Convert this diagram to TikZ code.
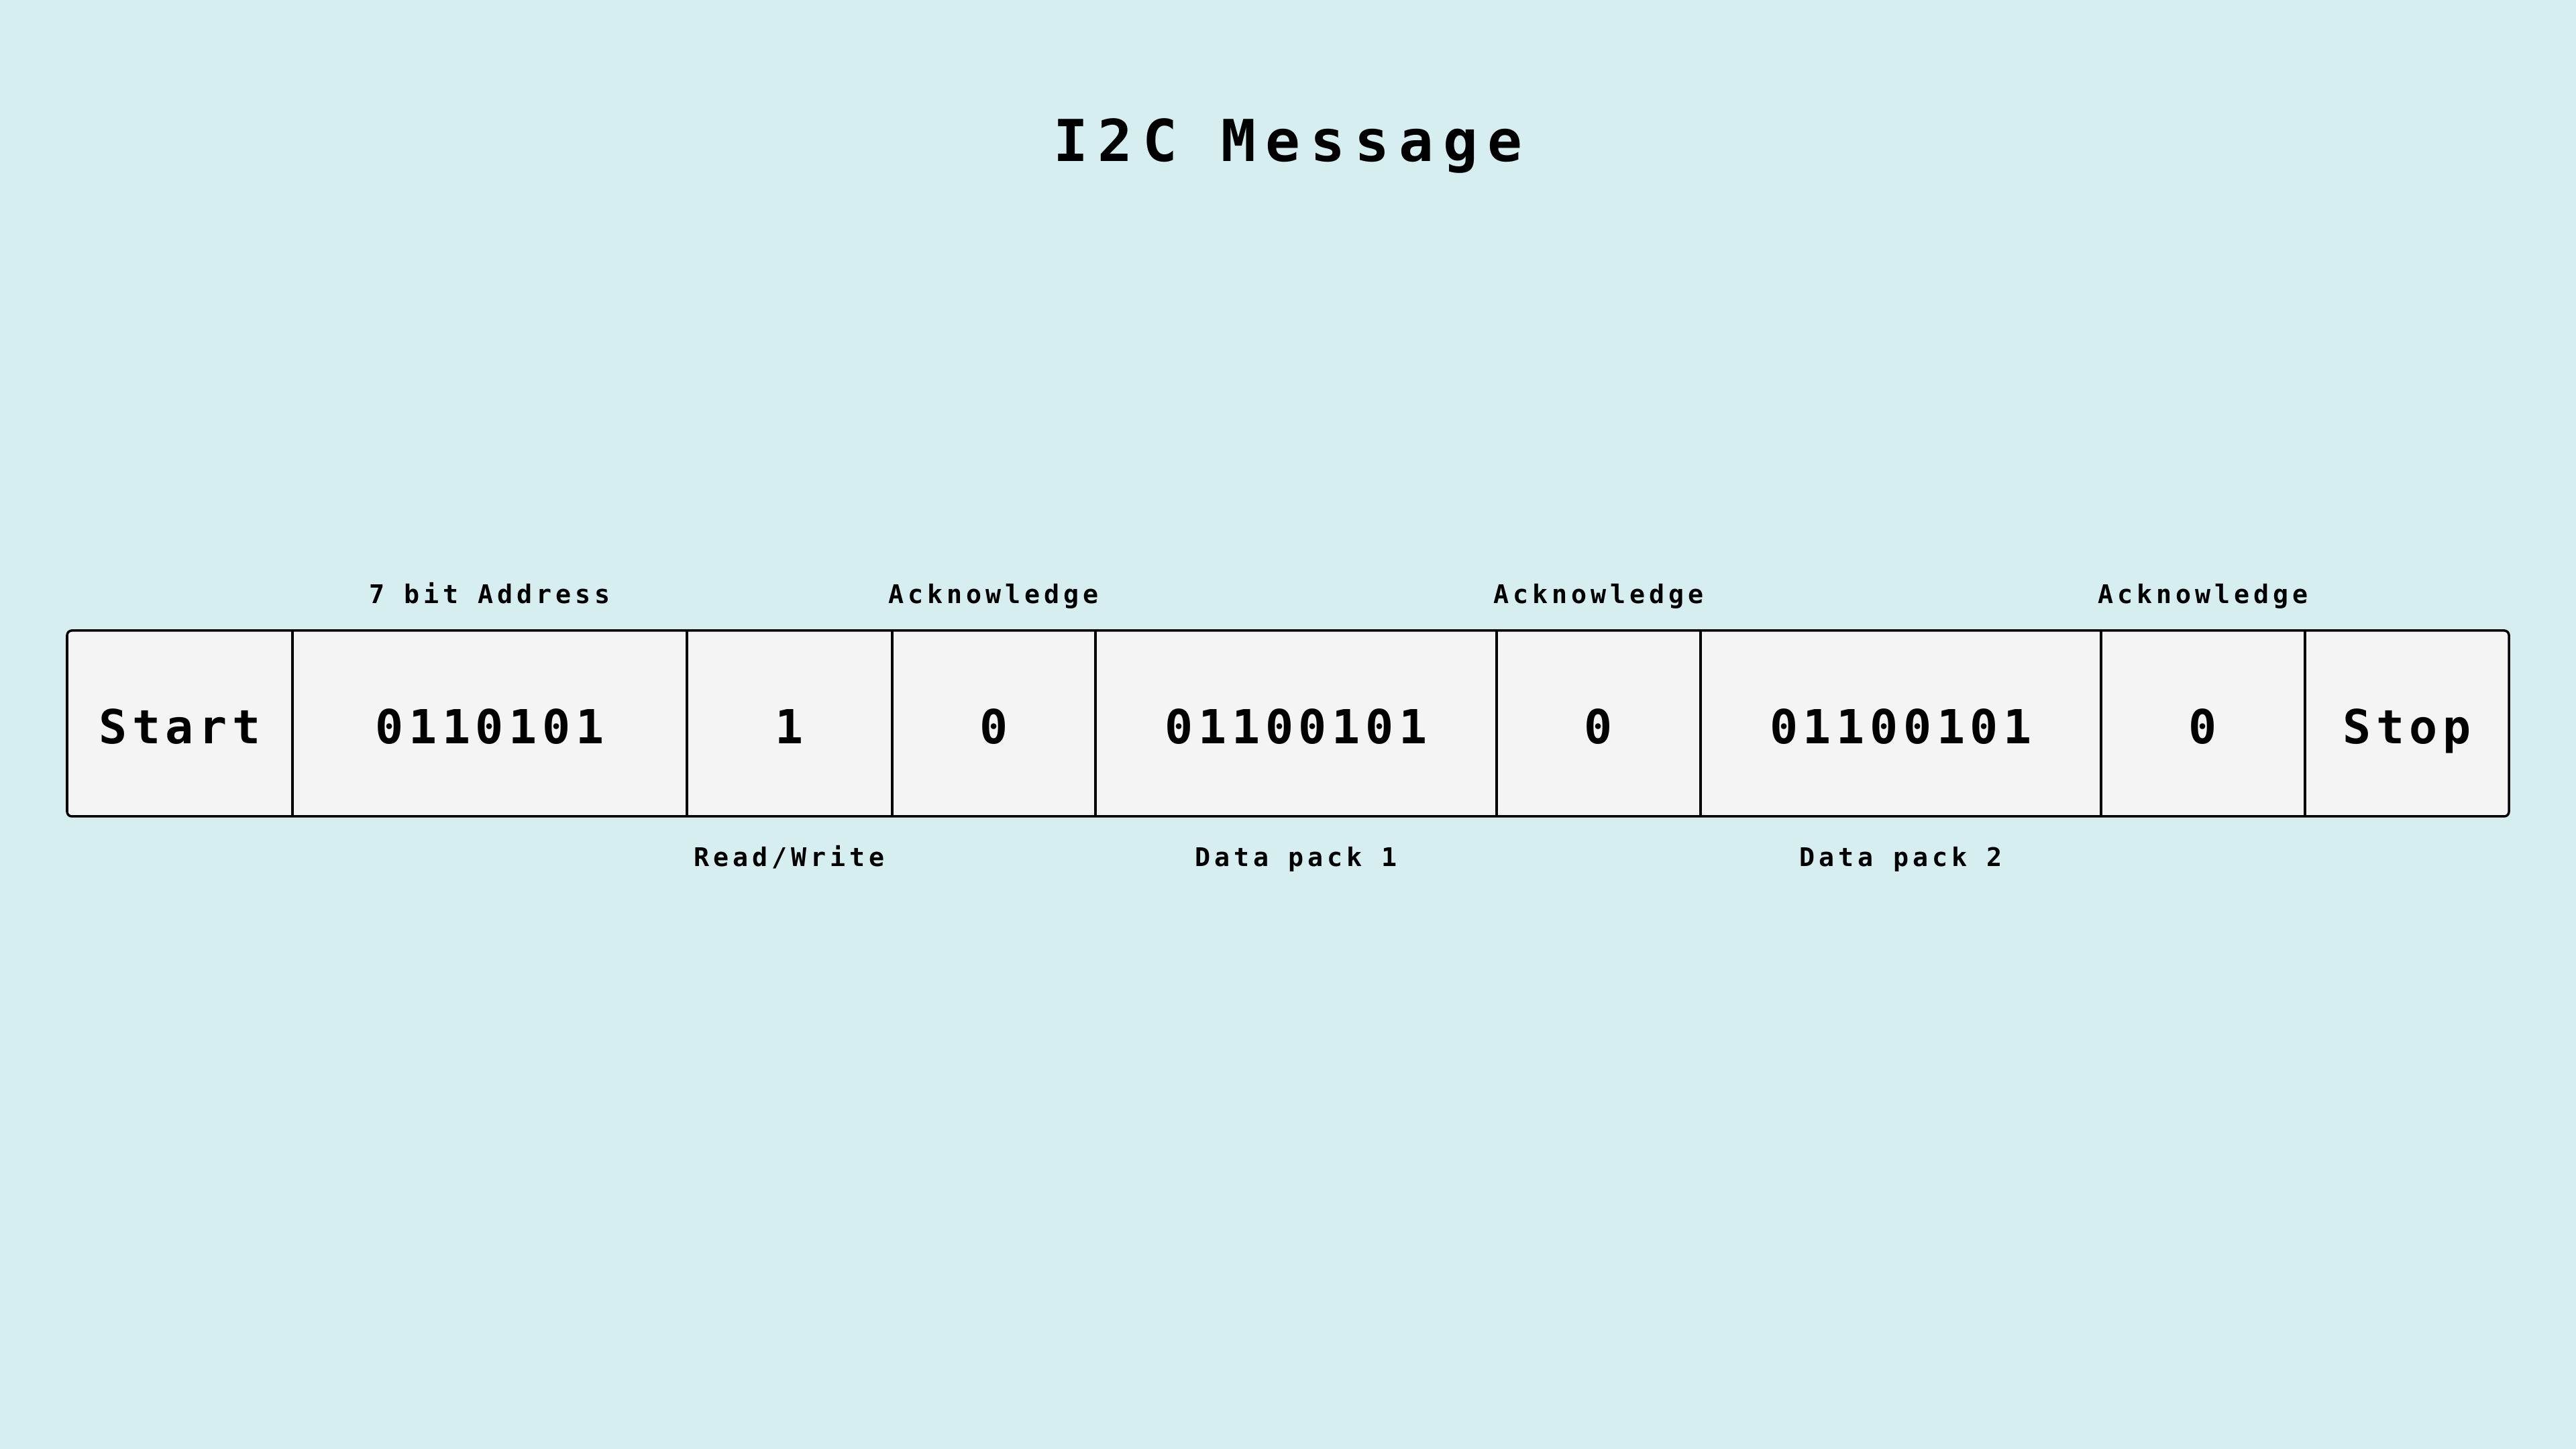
\documentclass[tikz,border=0pt]{standalone}
\usepackage{fontspec}
\usepackage{xcolor}
\usepackage{tikz}
\usetikzlibrary{positioning, fit}
\pgfdeclarelayer{background}
\pgfsetlayers{background,main}
\newfontfamily\titlefont{DejaVu Sans Mono}[LetterSpace=16.5]
\newfontfamily\cellfont{DejaVu Sans Mono}[LetterSpace=11]
\newfontfamily\lblfont{DejaVu Sans Mono}[LetterSpace=15.5]
\definecolor{bgcyan}{HTML}{D6EEF0}
\definecolor{cellgray}{HTML}{F4F4F4}
\tikzstyle{cell}    = [minimum height=2.77cm, inner sep=0pt, outer sep=0pt, text height=0.61cm, text depth=0cm,
                       font=\cellfont\bfseries\fontsize{19.9}{24}\selectfont]
\tikzstyle{lbl}     = [inner sep=0pt, font=\lblfont\bfseries\fontsize{10.9}{13}\selectfont]
\tikzstyle{bar}     = [draw, line width=1pt, fill=cellgray, rounded corners=0.07cm, inner sep=0pt]
\tikzstyle{divider} = [line width=1pt]

\begin{document}
\begin{tikzpicture}
  % title
  \node[font=\titlefont\bfseries\fontsize{24.5}{29}\selectfont, anchor=base] (title) at (19.2,19.19) {I2C Message};

  % message cells
  \node[cell, minimum width=3.36cm, anchor=west] (start) at (1,10.815) {Start};
  \node[cell, minimum width=5.88cm, right=0cm of start] (addr) {0110101};
  \node[cell, minimum width=3.06cm, right=0cm of addr] (rw) {1};
  \node[cell, minimum width=3.03cm, right=0cm of rw] (ack1) {0};
  \node[cell, minimum width=5.98cm, right=0cm of ack1] (data1) {01100101};
  \node[cell, minimum width=3.04cm, right=0cm of data1] (ack2) {0};
  \node[cell, minimum width=5.97cm, right=0cm of ack2] (data2) {01100101};
  \node[cell, minimum width=3.04cm, right=0cm of data2] (ack3) {0};
  \node[cell, minimum width=3.04cm, right=0cm of ack3] (stop) {Stop};

  % dividers
  \draw[divider] (addr.north west) -- (addr.south west) (rw.north west) -- (rw.south west)
                 (ack1.north west) -- (ack1.south west) (data1.north west) -- (data1.south west)
                 (ack2.north west) -- (ack2.south west) (data2.north west) -- (data2.south west)
                 (ack3.north west) -- (ack3.south west) (stop.north west) -- (stop.south west);

  % canvas and frame
  \begin{pgfonlayer}{background}
    \fill[bgcyan] (0,0) rectangle (38.4,21.6);
    \node[bar, fit=(start)(stop)] (msg) {};
  \end{pgfonlayer}

  % labels
  \node[lbl, above=0.4cm of addr.north, anchor=base] (addrlbl) {7 bit Address};
  \node[lbl, above=0.4cm of ack1.north, anchor=base] (ack1lbl) {Acknowledge};
  \node[lbl, above=0.4cm of ack2.north, anchor=base] (ack2lbl) {Acknowledge};
  \node[lbl, above=0.4cm of ack3.north, anchor=base] (ack3lbl) {Acknowledge};
  \node[lbl, below=0.75cm of rw.south, anchor=base] (rwlbl) {Read/Write};
  \node[lbl, below=0.75cm of data1.south, anchor=base] (data1lbl) {Data pack 1};
  \node[lbl, below=0.75cm of data2.south, anchor=base] (data2lbl) {Data pack 2};
\end{tikzpicture}
\end{document}
